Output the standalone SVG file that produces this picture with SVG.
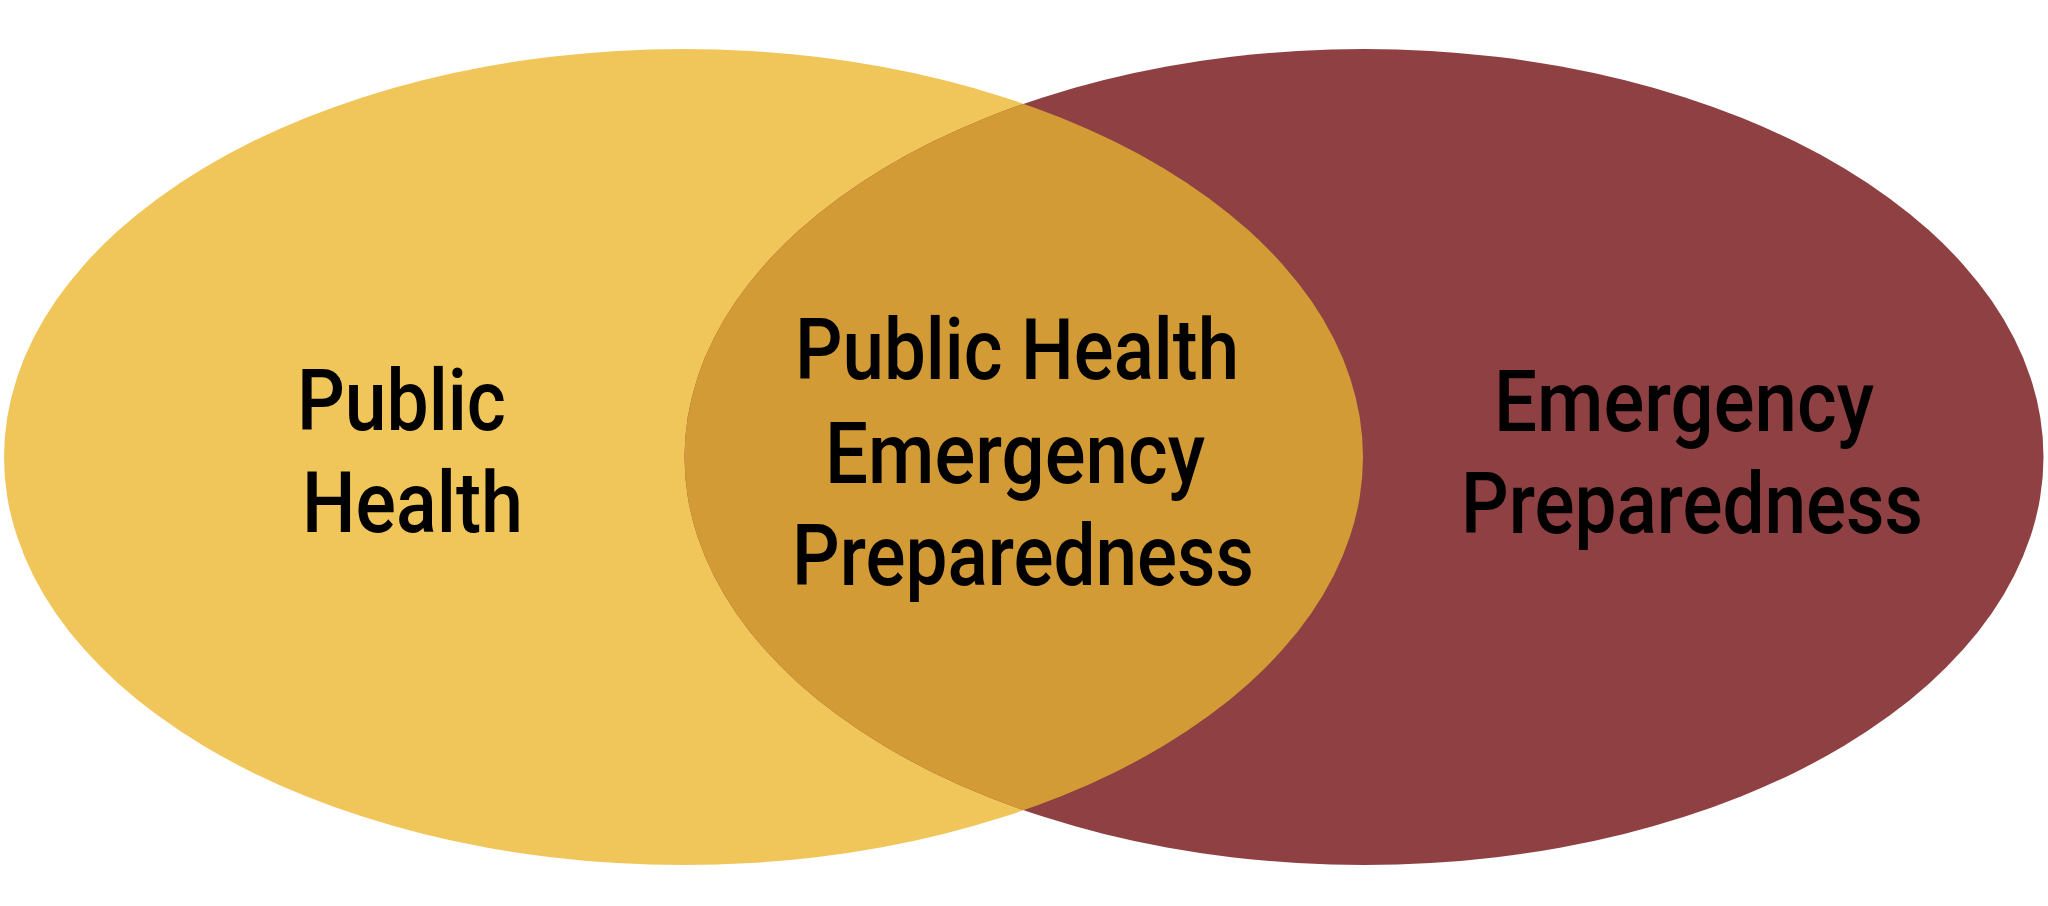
<svg xmlns="http://www.w3.org/2000/svg" width="2048" height="906" viewBox="0 0 2048 906">
<style>
.lbl{font-family:Roboto,"Liberation Sans",Arial,sans-serif;font-weight:500;font-size:86px;fill:#000}
</style>
<defs>
<clipPath id="clipLeft"><ellipse cx="683.5" cy="457" rx="679.5" ry="408"/></clipPath>
</defs>
<rect width="2048" height="906" fill="#ffffff"/>
<g id="public-health">
<ellipse cx="683.5" cy="457" rx="679.5" ry="408" fill="#F0C65A"/>
<text class="lbl" x="297" y="430" textLength="209" lengthAdjust="spacingAndGlyphs">Public</text>
<text class="lbl" x="302" y="532" textLength="221" lengthAdjust="spacingAndGlyphs">Health</text>
</g>
<g id="emergency-preparedness">
<ellipse cx="1364" cy="457" rx="679.5" ry="408" fill="#8E4043"/>
<text class="lbl" x="1494" y="431" textLength="380" lengthAdjust="spacingAndGlyphs">Emergency</text>
<text class="lbl" x="1461" y="533" textLength="462" lengthAdjust="spacingAndGlyphs">Preparedness</text>
</g>
<g id="overlap">
<ellipse cx="1364" cy="457" rx="679.5" ry="408" fill="#D39B36" clip-path="url(#clipLeft)"/>
<text class="lbl" x="795" y="379" textLength="444" lengthAdjust="spacingAndGlyphs">Public Health</text>
<text class="lbl" x="825" y="483" textLength="380" lengthAdjust="spacingAndGlyphs">Emergency</text>
<text class="lbl" x="792" y="585" textLength="462" lengthAdjust="spacingAndGlyphs">Preparedness</text>
</g>
<g id="connectors"/>
</svg>
